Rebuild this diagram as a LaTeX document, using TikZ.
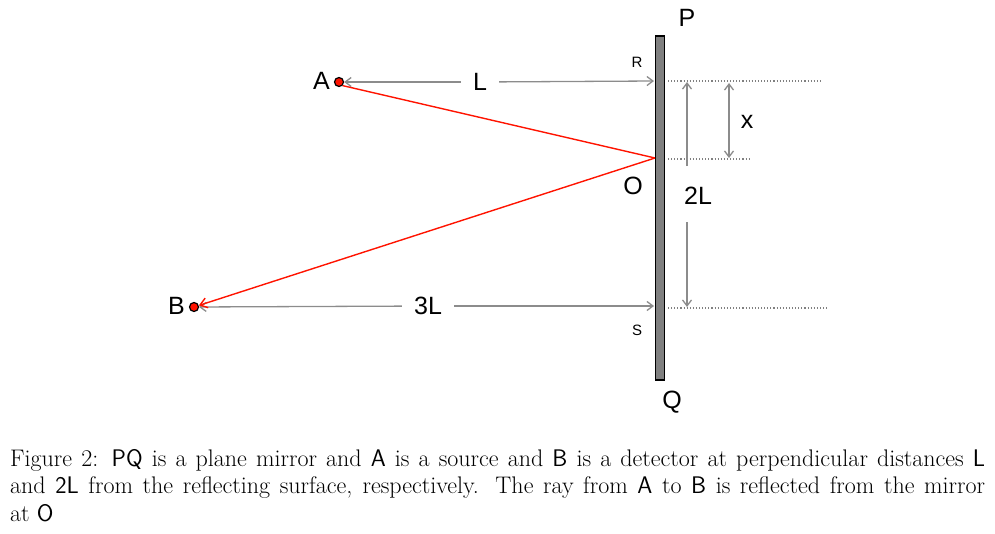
\documentclass[tikz,border=0pt]{standalone}
\usepackage{fontspec}
\newfontfamily\lab{Liberation Sans}
\usetikzlibrary{arrows.meta}
\begin{document}
\begin{tikzpicture}[x=1pt,y=-1pt,
  dim/.style={draw=gray!90,line width=1.3pt,->,>={Straight Barb[length=6pt,width=9pt]}},
  dimb/.style={draw=gray!90,line width=1.3pt,<->,>={Straight Barb[length=6pt,width=9pt]}},
  dots/.style={draw=gray,line width=1.1pt,dotted},
  ray/.style={draw=red!85!orange,line width=1.4pt},
  dot/.style={circle,fill=red!85!orange,draw=black,line width=1.2pt,inner sep=0pt,minimum size=9pt},
  big/.style={font=\lab\fontsize{25}{25}\selectfont,inner sep=1pt},
  gap/.style={font=\lab\fontsize{25}{25}\selectfont,inner xsep=12pt,inner ysep=1pt},
  small/.style={font=\lab\fontsize{15}{15}\selectfont,inner sep=1pt}]
\useasboundingbox (0,0) rectangle (995,533);
\node[draw=black,fill=gray,line width=1.4pt,minimum width=9pt,minimum height=344pt,inner sep=0pt] (m) at (660,208) {};
\node[dot] (A) at (339,82) {};
\node[dot] (B) at (194,307) {};
\coordinate (O) at (655,158);
\coordinate (R) at (654,81);
\coordinate (S) at (654,306);
\node[big,anchor=east] (Al) at (331,81) {A};
\node[big,anchor=east] (Bl) at (186,306) {B};
\node[gap] (L) at (480,82) {L};
\node[gap] (L3) at (428,306) {3L};
\node[big] (P) at (687,18) {P};
\node[big] (Q) at (672,402) {Q};
\node[big] (Ol) at (633,186) {O};
\node[big] (L2) at (698,196) {2L};
\node[big] (xl) at (747,122) {x};
\node[small] (Rl) at (637,62) {R};
\node[small] (Sl) at (637,330) {S};
\draw[dim] (L) -- (A);
\draw[dim] (L) -- (R);
\draw[dim] (L3) -- (B);
\draw[dim] (L3) -- (S);
\draw[ray] (A.south east) -- (O);
\draw[ray,->,>={Straight Barb[length=7pt,width=10pt]}] (O) -- (B);
\coordinate (d1) at (668,81); \coordinate (d1e) at (822,81);
\coordinate (d2) at (668,159); \coordinate (d2e) at (750,159);
\coordinate (d3) at (668,308); \coordinate (d3e) at (828,308);
\draw[dots] (d1) -- (d1e);
\draw[dots] (d2) -- (d2e);
\draw[dots] (d3) -- (d3e);
\coordinate (t1) at (687,82); \coordinate (t2) at (687,166);
\coordinate (t3) at (687,222); \coordinate (t4) at (687,307);
\draw[dim] (t2) -- (t1);
\draw[dim] (t3) -- (t4);
\coordinate (x1) at (729,83); \coordinate (x2) at (729,158);
\draw[dimb] (x1) -- (x2);
\node[anchor=north west,text width=975pt,align=justify,inner sep=0pt] (cap) at (10,449)
{\fontsize{24}{27.5}\selectfont Figure 2: \textsf{PQ} is a plane mirror and \textsf{A} is a source and \textsf{B} is a detector at perpendicular distances \textsf{L}\linebreak and \textsf{2L} from the reflecting surface, respectively. The ray from \textsf{A} to \textsf{B} is reflected from the mirror\linebreak at \textsf{O}\par};
\end{tikzpicture}
\end{document}
